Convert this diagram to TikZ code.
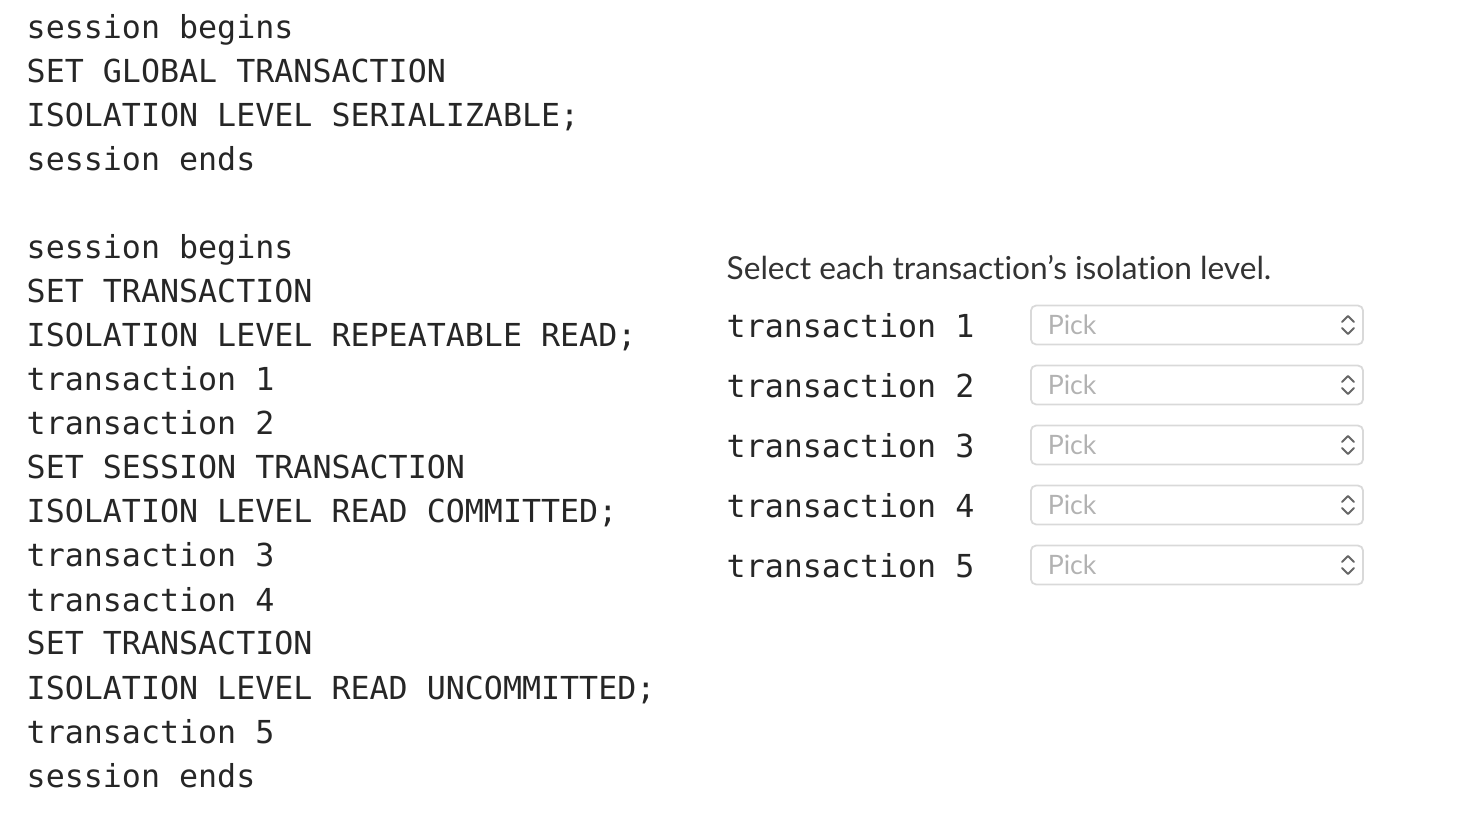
\documentclass[tikz,border=0pt]{standalone}
\usepackage{fontspec}
\setmonofont{DejaVu Sans Mono}
\setsansfont[Ligatures={NoCommon}]{Lato}
\usetikzlibrary{positioning}
\tikzset{
  code/.style={anchor=base west,inner sep=0pt,font=\ttfamily\fontsize{9}{11}\selectfont,text=black!85},
  pickbox/.style={draw=black!15,rounded corners=1.5pt,line width=.5pt,minimum width=3.32cm,minimum height=.39cm,inner sep=0pt},
  picktext/.style={anchor=west,inner sep=0pt,font=\sffamily\fontsize{7.6}{9}\selectfont,text=black!30},
  chev/.style={draw=black!60,line width=.55pt,line cap=round,line join=round}
}
\begin{document}
\begin{tikzpicture}[x=0.01cm,y=-0.01cm]
\useasboundingbox (0,0) rectangle (1470,822);
% left column: the statements
\foreach \txt [count=\i] in {session begins,SET GLOBAL TRANSACTION,ISOLATION LEVEL SERIALIZABLE;,session ends}
  \node[code] (top\i) at (26,{28+44*(\i-1)+11}) {\txt};
\foreach \txt [count=\i] in {session begins,SET TRANSACTION,ISOLATION LEVEL REPEATABLE READ;,transaction 1,transaction 2,SET SESSION TRANSACTION,ISOLATION LEVEL READ COMMITTED;,transaction 3,transaction 4,SET TRANSACTION,ISOLATION LEVEL READ UNCOMMITTED;,transaction 5,session ends}
  \node[code] (sess\i) at (26,{248+44*(\i-1)+11}) {\txt};
% right column: the form
\node[anchor=west,inner sep=0pt,font=\sffamily\fontsize{9}{10}\selectfont,text=black!80] (head) at (726,268) {Select each transaction's isolation level.};
\foreach \i in {1,...,5}{
  \node[code] (tr\i) at (726,{327+60*(\i-1)+11}) {transaction \i};
  \node[pickbox] (box\i) at (1197,{325+60*(\i-1)}) {};
  \node[picktext] (pick\i) at ([xshift=0.17cm]box\i.west) {Pick};
  \coordinate (ch\i) at ([xshift=-0.16cm]box\i.east);
  \draw[chev] ([xshift=-0.06cm,yshift=0.03cm]ch\i) -- ([yshift=0.09cm]ch\i) -- ([xshift=0.06cm,yshift=0.03cm]ch\i);
  \draw[chev] ([xshift=-0.06cm,yshift=-0.03cm]ch\i) -- ([yshift=-0.09cm]ch\i) -- ([xshift=0.06cm,yshift=-0.03cm]ch\i);
}
\end{tikzpicture}
\end{document}
